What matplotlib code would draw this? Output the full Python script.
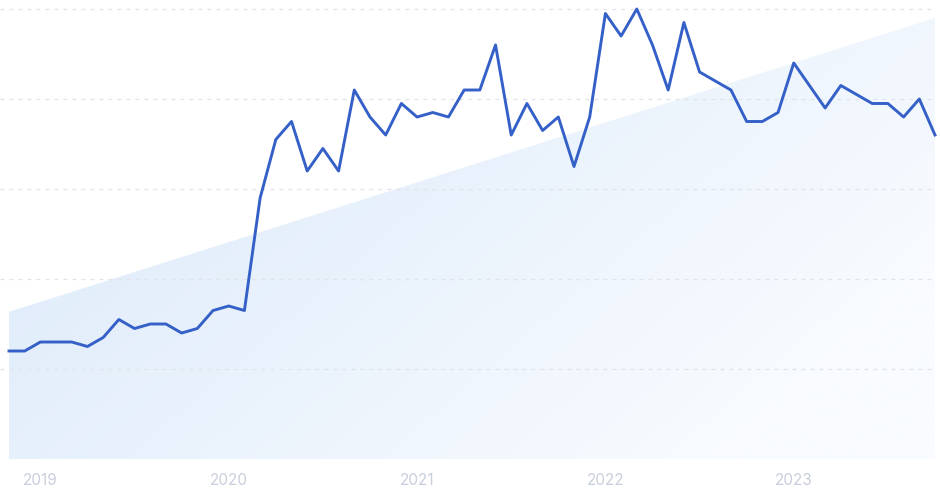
import numpy as np
import matplotlib.pyplot as plt
from matplotlib.patches import Polygon
from matplotlib.colors import LinearSegmentedColormap

plt.rcParams['font.family'] = ['Inter', 'DejaVu Sans']

# monthly index, Nov 2018 .. Oct 2023 (0-100 scale)
values = [24, 24, 26, 26, 26, 25, 27, 31, 29, 30, 30, 28, 29, 33, 34, 33,
          58, 71, 75, 64, 69, 64, 82, 76, 72, 79, 76, 77, 76, 82, 82, 92,
          72, 79, 73, 76, 65, 76, 99, 94, 100, 92, 82, 97, 86, 84, 82, 75,
          75, 77, 88, 83, 78, 83, 81, 79, 79, 76, 80, 72]
years = ['2019', '2020', '2021', '2022', '2023']
year_pos = [2, 14, 26, 38, 50]
band_start = 32.7
band_end = 98.0
grid_levels = [20, 40, 60, 80, 100]

x = np.arange(len(values))

fig = plt.figure(figsize=(9.4, 4.9), dpi=100)
ax = fig.add_axes([0, 30 / 490, 1, 460 / 490])
ax.set_xlim(-0.573, 59.319)
ax.set_ylim(-0.22, 102)

# background trend band with a soft gradient
poly = Polygon([(0, 0), (0, band_start), (x[-1], band_end), (x[-1], 0)],
               closed=True, facecolor='none', edgecolor='none')
ax.add_patch(poly)
gx, gy = np.meshgrid(np.linspace(0, 1, 300), np.linspace(0, 1, 200))
t = np.clip(0.8 * gx + 0.45 * (1 - gy) - 0.05, 0, 1)
cmap = LinearSegmentedColormap.from_list('band', ['#dce9fa', '#e9f2fc', '#f8fbff'])
img = ax.imshow(t, cmap=cmap, vmin=0, vmax=1, origin='lower', aspect='auto',
                extent=[0, x[-1], 0, 100], zorder=0, interpolation='bilinear')
img.set_clip_path(poly)

for g in grid_levels:
    ax.axhline(g, xmin=0, xmax=935 / 940, color='#e0e3e9', lw=0.9,
               linestyle=(0, (3.1, 4.1)), zorder=1)

ax.plot(x, values, color='#3460c8', lw=2.1, zorder=3)

ax.set_xticks(year_pos, years)
ax.set_yticks([])
ax.tick_params(axis='x', length=0, pad=9, labelsize=11, labelcolor='#c8cedc')
for s in ax.spines.values():
    s.set_visible(False)

fig.savefig('out.png', dpi=100)
